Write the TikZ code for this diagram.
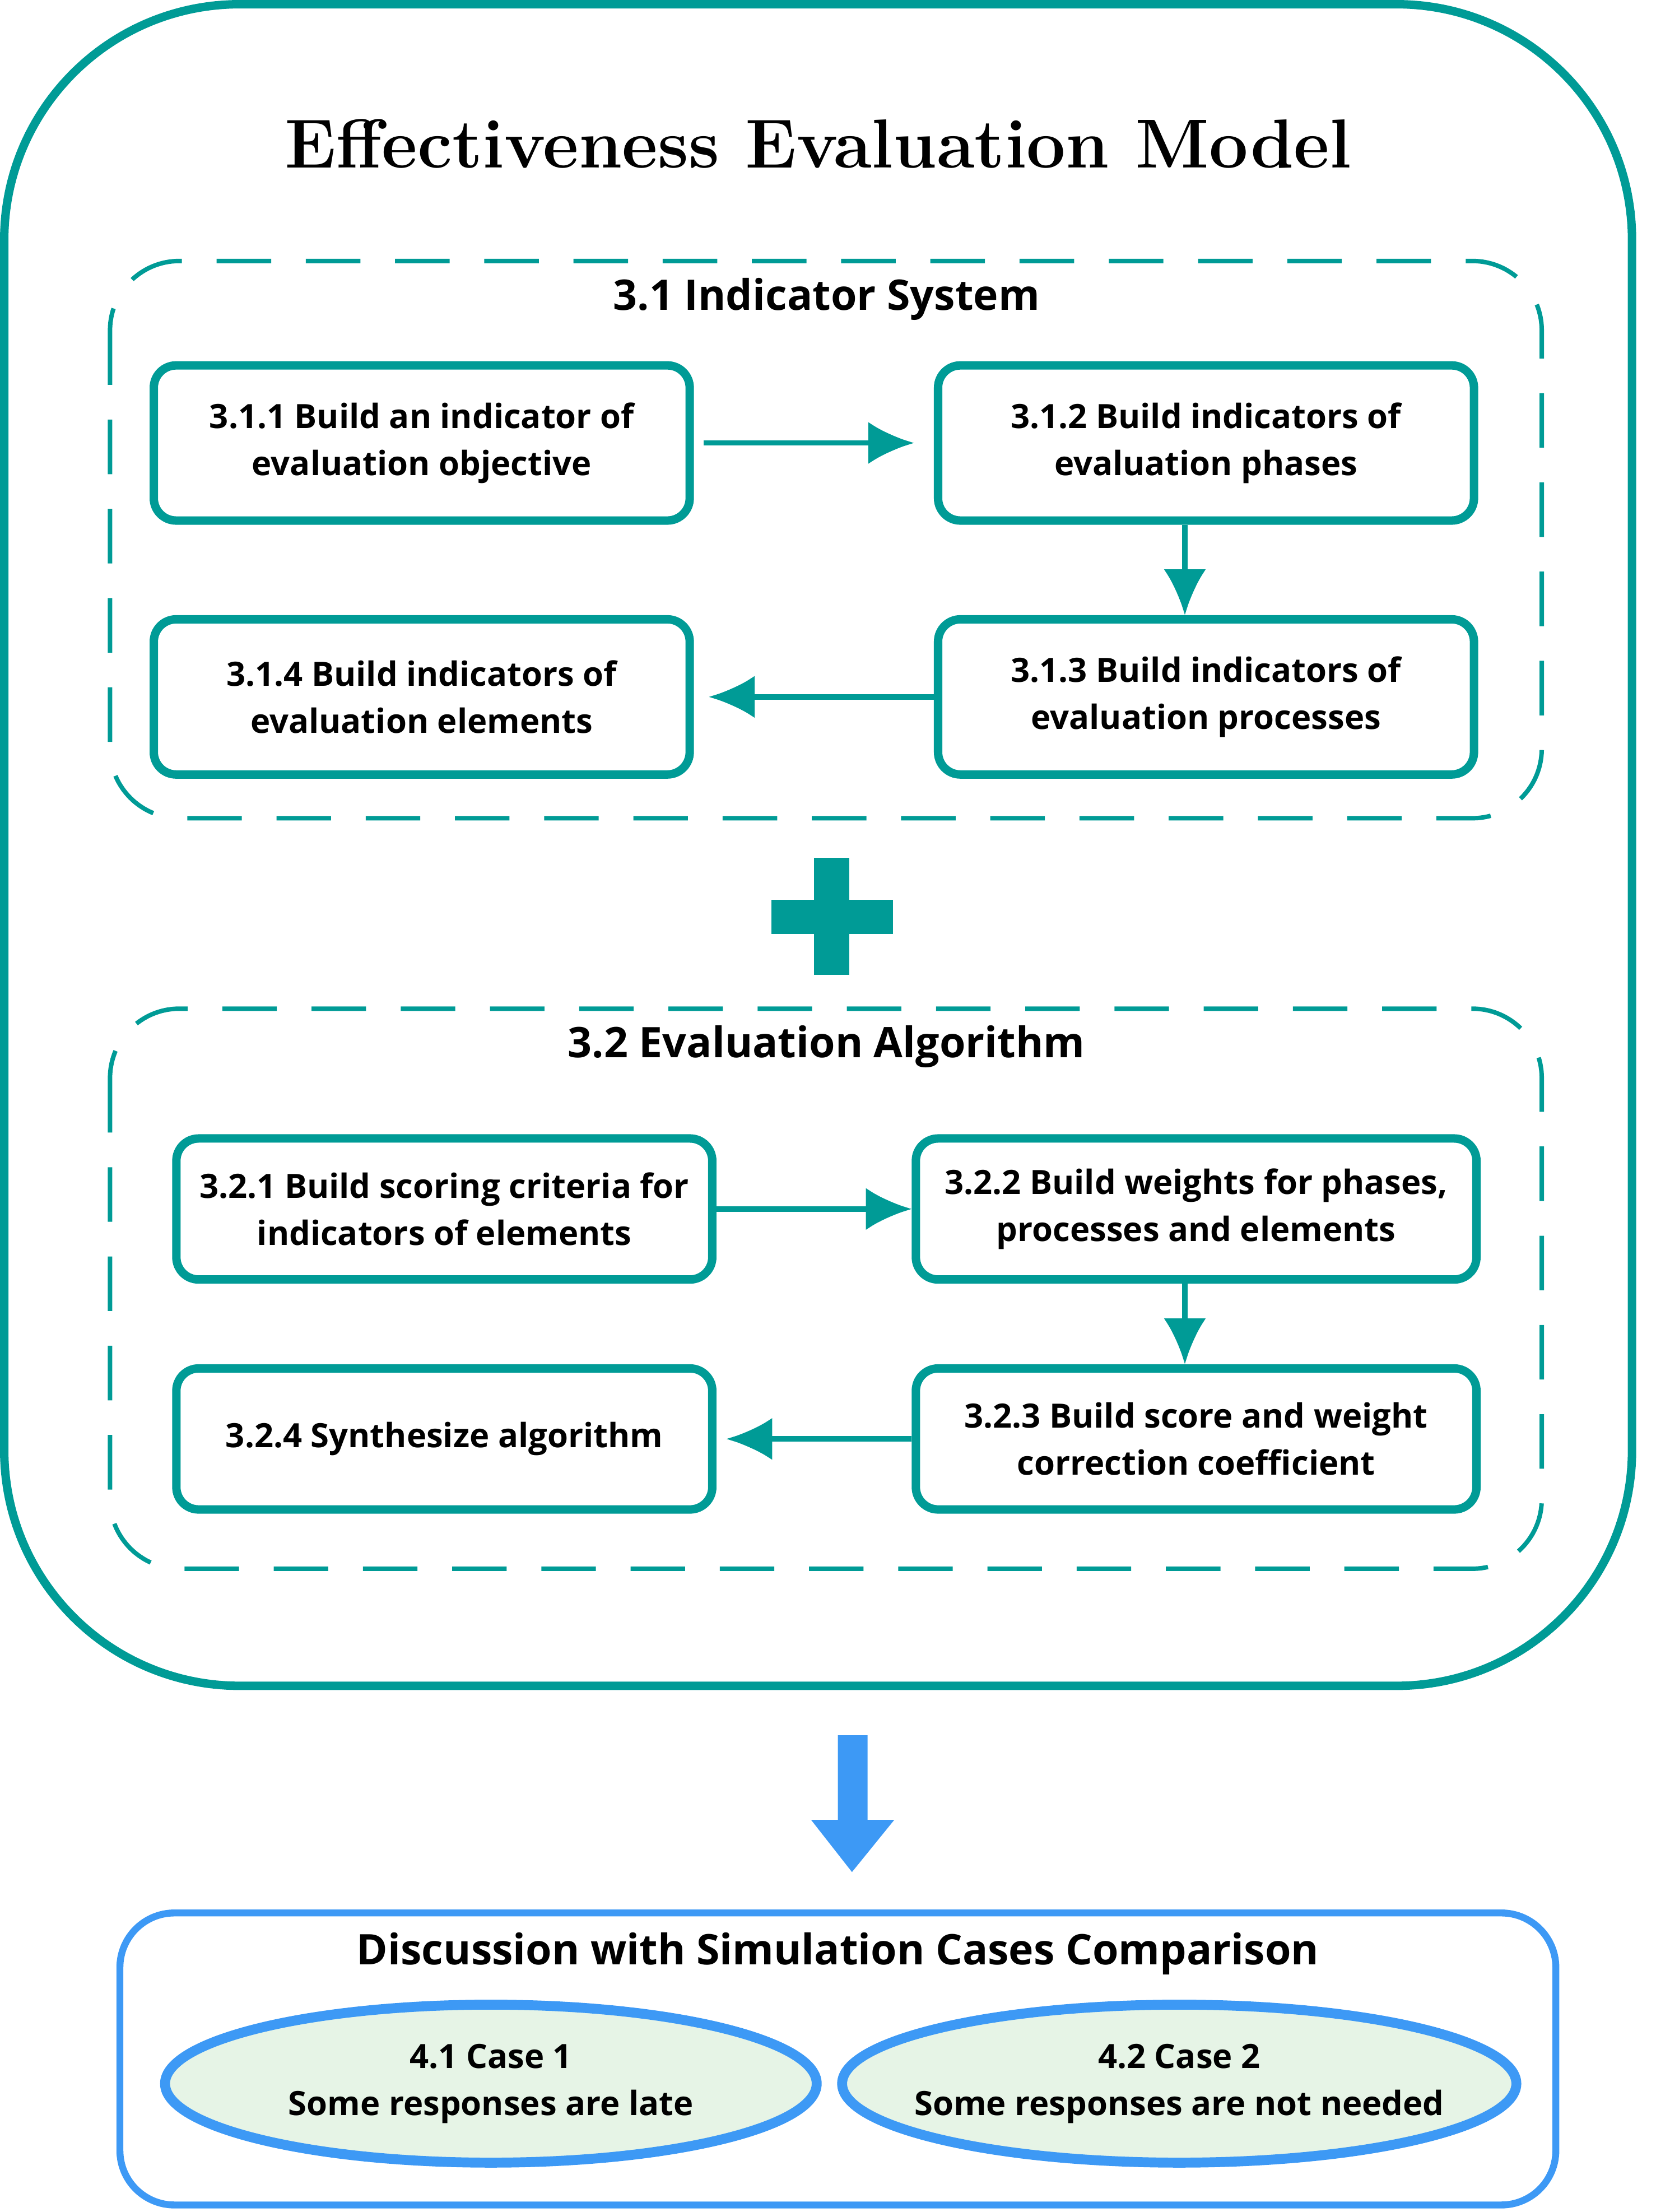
\documentclass[tikz,border=0pt]{standalone}
\usepackage{fontspec}
\setsansfont{Open Sans}
\usetikzlibrary{arrows.meta,positioning,shapes.geometric}
\definecolor{teal}{RGB}{0,155,150}
\definecolor{bluel}{RGB}{61,153,245}
\definecolor{greenl}{RGB}{230,244,230}
\begin{document}
\begin{tikzpicture}[
        x=0.02cm, y=-0.02cm,
        stepbox/.style={draw=teal, line width=3.4pt, rounded corners=9pt, align=center,
            minimum width=7.6cm, minimum height=2.2cm, font=\sffamily\bfseries\fontsize{13.5}{19}\selectfont},
        group/.style={draw=teal, line width=1.8pt, dash pattern=on 22pt off 14pt, rounded corners=28pt},
        flow/.style={draw=teal, line width=2.2pt, -{Latex[length=0.65cm,width=0.6cm]}},
        caseline/.style={draw=bluel, fill=greenl, line width=4pt},
        casetext/.style={align=center, font=\sffamily\bfseries\fontsize{13.5}{19}\selectfont},
        heading/.style={font=\sffamily\bfseries\fontsize{17}{20}\selectfont}
    ]
        \useasboundingbox (0,0) rectangle (1174,1568);

        % Cadre principal
        \draw[teal, line width=3.4pt, rounded corners=95pt] (3,3) rectangle (1157,1195);
        \node[font=\bfseries\fontsize{28}{34}\selectfont] (title) at (580,102) {Effectiveness Evaluation Model};

        % 3.1
        \draw[group] (78,185) rectangle (1093,580);
        \node[heading] (g1) at (586,212) {3.1 Indicator System};
        \node[stepbox] (a1) at (299,314) {3.1.1 Build an indicator of\\evaluation objective};
        \node[stepbox] (a2) at (855,314) {3.1.2 Build indicators of\\evaluation phases};
        \node[stepbox] (a3) at (855,494) {3.1.3 Build indicators of\\evaluation processes};
        \node[stepbox] (a4) at (299,494) {3.1.4 Build indicators of\\evaluation elements};
        \draw[flow] ([xshift=4]a1.east) -- ([xshift=-8]a2.west);
        \draw[flow] (a2.south -| 840,0) -- (a3.north -| 840,0);
        \draw[flow] (a3.west) -- ([xshift=6]a4.east);

        % Plus
        \fill[teal] (577,608) rectangle (602,691);
        \fill[teal] (547,638) rectangle (633,662);

        % 3.2
        \draw[group] (78,715) rectangle (1093,1112);
        \node[heading] (g2) at (586,742) {3.2 Evaluation Algorithm};
        \node[stepbox, minimum width=7.6cm, minimum height=2.0cm] (b1) at (315,857) {3.2.1 Build scoring criteria for\\indicators of elements};
        \node[stepbox, minimum width=7.95cm, minimum height=2.0cm] (b2) at (848,857) {3.2.2 Build weights for phases,\\processes and elements};
        \node[stepbox, minimum width=7.95cm, minimum height=2.0cm] (b3) at (848,1020) {3.2.3 Build score and weight\\correction coefficient};
        \node[stepbox, minimum width=7.6cm, minimum height=2.0cm] (b4) at (315,1020) {3.2.4 Synthesize algorithm};
        \draw[flow] (b1.east) -- (b2.west);
        \draw[flow] (b2.south -| 840,0) -- (b3.north -| 840,0);
        \draw[flow] (b3.west) -- ([xshift=4]b4.east);

        % Fleche vers la discussion
        \fill[bluel] (594,1230) -- (615,1230) -- (615,1290) -- (634,1290) -- (604,1327)
            -- (575,1290) -- (594,1290) -- cycle;

        % Discussion
        \draw[bluel, line width=2.8pt, rounded corners=22pt] (85,1356) rectangle (1103,1563);
        \node[heading] (g3) at (594,1385) {Discussion with Simulation Cases Comparison};
        \draw[caseline] (348,1477) ellipse [x radius=231, y radius=56];
        \draw[caseline] (836,1477) ellipse [x radius=239, y radius=56];
        \node[casetext] (c1) at (348,1477) {4.1 Case 1\\Some responses are late};
        \node[casetext] (c2) at (836,1477) {4.2 Case 2\\Some responses are not needed};
    \end{tikzpicture}
\end{document}
